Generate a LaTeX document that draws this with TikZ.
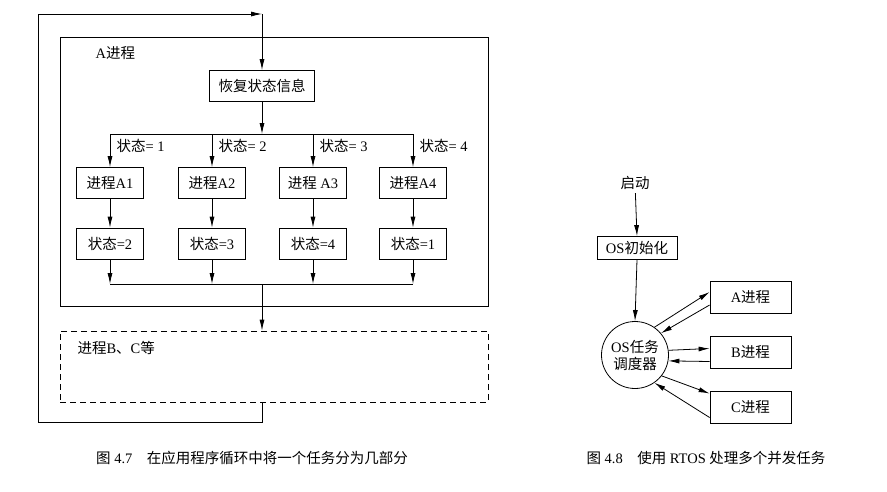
\documentclass[tikz,border=0pt]{standalone}
\usepackage{fontspec}
\setmainfont{Liberation Serif}
\newfontfamily\cjk{Noto Sans CJK SC}
\newcommand{\zh}[1]{{\cjk #1}}
\usetikzlibrary{arrows.meta}
\begin{document}
\begin{tikzpicture}[x=1pt,y=-1pt,
  every node/.style={font=\fontsize{14.5}{17}\selectfont},
  box/.style={draw,line width=0.8pt,minimum height=31pt,inner sep=2pt,anchor=center},
  arr/.style={-{Latex[length=11pt,width=5pt]},line width=0.8pt},
  ln/.style={line width=0.8pt}]
\useasboundingbox[fill=white] (0,0) rectangle (887,491);
% left figure
\node[draw,ln,minimum width=428pt,minimum height=269pt,inner sep=0pt] (A) at (274,171.5) {};
\node[anchor=west] (Alab) at (92,53) {A\zh{进程}};
\node[draw,ln,dashed,dash pattern=on 6pt off 4pt,minimum width=428pt,minimum height=71pt,inner sep=0pt] (BC) at (274,366.5) {};
\node[anchor=west] (BClab) at (74,348) {\zh{进程}B\zh{、}C\zh{等}};
\node[box,minimum width=105pt] (R) at (262,86) {\zh{恢复状态信息}};
\coordinate (top) at (262,14);
\coordinate (ctl) at (38,14);
\coordinate (cbl) at (38,422);
\coordinate (cbr) at (262,422);
\draw[arr] (262,402) -- (cbr) -- (cbl) -- (ctl) -- (top);
\draw[arr] (top) -- (R.north);
\coordinate (br) at (262,134);
\draw[arr] (R.south) -- (br);
\coordinate (bl) at (110,134);
\coordinate (brr) at (413,134);
\draw[ln] (bl) -- (brr);
\coordinate (mg) at (262,284);
\coordinate (ml) at (110,284);
\coordinate (mr) at (413,284);
\draw[ln] (ml) -- (mr);
\draw[arr] (mg) -- (mg |- BC.north);
\foreach \i/\x/\p/\s in {1/110/\zh{进程}A1/2,2/212/\zh{进程}A2/3,3/313/\zh{进程} A3/4,4/413/\zh{进程}A4/1}{
  \node[box,minimum width=67pt] (P\i) at (\x,183) {\p};
  \node[box,minimum width=67pt] (S\i) at (\x,243.5) {\zh{状态}=\s};
  \coordinate (b\i) at (\x,134);
  \coordinate (m\i) at (\x,284);
  \draw[arr] (b\i) -- (P\i.north);
  \node[anchor=west] (L\i) at (\x+3,146) {\zh{状态}= \i};
  \draw[arr] (P\i.south) -- (S\i.north);
  \draw[arr] (S\i.south) -- (m\i);
}
% right figure
\node (start) at (635,183) {\zh{启动}};
\node[box,minimum width=80pt,minimum height=23pt] (os) at (637,248) {OS\zh{初始化}};
\node[draw,ln,circle,minimum size=67pt,inner sep=0pt,align=center,font=\fontsize{14.5}{17}\selectfont] (sch) at (635,355) {OS\zh{任务}\\\zh{调度器}};
\node[box,minimum width=81pt,minimum height=32pt] (pa) at (750.5,297) {A\zh{进程}};
\node[box,minimum width=81pt,minimum height=32pt] (pb) at (750.5,352.5) {B\zh{进程}};
\node[box,minimum width=81pt,minimum height=32pt] (pc) at (750.5,407.5) {C\zh{进程}};
\draw[arr] (start) -- (os.north);
\draw[arr] (os.south) -- (sch.north);
\draw[arr] (sch.55) -- ([yshift=5pt]pa.west);
\draw[arr] ([yshift=-8pt]pa.west) -- (sch.40);
\draw[arr] (sch.8) -- ([yshift=4pt]pb.west);
\draw[arr] ([yshift=-9pt]pb.west) -- (sch.-10);
\draw[arr] (sch.-38) -- ([yshift=14pt]pc.west);
\draw[arr] ([yshift=-10pt]pc.west) -- (sch.-55);
% captions
\node (cap1) at (252,458) {\zh{图} 4.7\quad\zh{在应用程序循环中将一个任务分为几部分}};
\node (cap2) at (706,458) {\zh{图} 4.8\quad\zh{使用} RTOS \zh{处理多个并发任务}};
\end{tikzpicture}
\end{document}
